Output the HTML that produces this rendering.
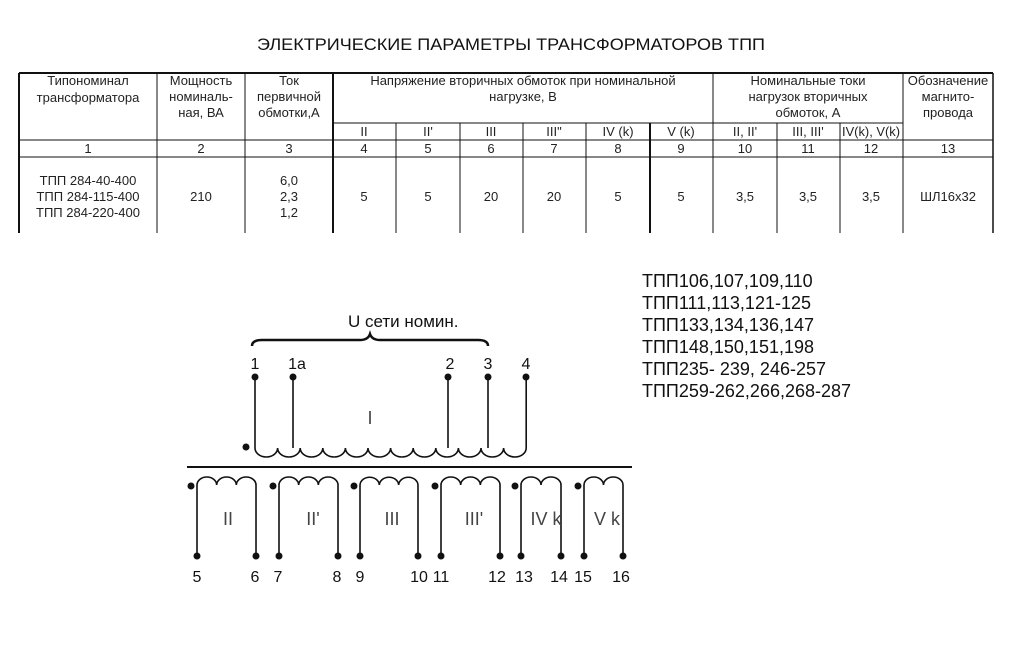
<!DOCTYPE html>
<html><head><meta charset="utf-8"><style>
html,body{margin:0;padding:0;background:#fff;}
svg{display:block;font-family:"Liberation Sans",sans-serif;}
</style></head><body>
<svg width="1012" height="645" viewBox="0 0 1012 645" xmlns="http://www.w3.org/2000/svg">
<text x="257" y="50" font-size="17" textLength="508" lengthAdjust="spacingAndGlyphs" fill="#111">ЭЛЕКТРИЧЕСКИЕ ПАРАМЕТРЫ ТРАНСФОРМАТОРОВ ТПП</text>
<g stroke="#111" fill="none">
<line x1="19" y1="73" x2="993" y2="73" stroke-width="2"/>
<line x1="19" y1="73" x2="19" y2="233" stroke-width="2"/>
<line x1="993" y1="73" x2="993" y2="233" stroke-width="1.5"/>
<line x1="333" y1="123" x2="903" y2="123" stroke-width="1"/>
<line x1="19" y1="140" x2="993" y2="140" stroke-width="1"/>
<line x1="19" y1="157" x2="993" y2="157" stroke-width="1"/>
<line x1="157" y1="73" x2="157" y2="233" stroke-width="1"/>
<line x1="245" y1="73" x2="245" y2="233" stroke-width="1"/>
<line x1="333" y1="73" x2="333" y2="233" stroke-width="2"/>
<line x1="650" y1="123" x2="650" y2="233" stroke-width="2"/>
<line x1="713" y1="73" x2="713" y2="233" stroke-width="1"/>
<line x1="903" y1="73" x2="903" y2="233" stroke-width="1"/>
<g stroke-width="1">
<line x1="396" y1="123" x2="396" y2="233"/><line x1="460" y1="123" x2="460" y2="233"/>
<line x1="523" y1="123" x2="523" y2="233"/><line x1="586" y1="123" x2="586" y2="233"/>
<line x1="777" y1="123" x2="777" y2="233"/><line x1="840" y1="123" x2="840" y2="233"/>
</g>
</g>
<g font-size="13" fill="#222" text-anchor="middle">
<text x="88" y="85">Типономинал</text><text x="88" y="102">трансформатора</text>
<text x="201" y="85">Мощность</text><text x="201" y="101">номиналь-</text><text x="201" y="117">ная, ВА</text>
<text x="289" y="85">Ток</text><text x="289" y="101">первичной</text><text x="289" y="117">обмотки,А</text>
<text x="523" y="85">Напряжение вторичных обмоток при номинальной</text><text x="523" y="101">нагрузке, В</text>
<text x="808" y="85">Номинальные токи</text><text x="808" y="101">нагрузок вторичных</text><text x="808" y="117">обмоток, А</text>
<text x="948" y="85">Обозначение</text><text x="948" y="101">магнито-</text><text x="948" y="117">провода</text>
<text x="364" y="136">II</text><text x="428" y="136">II'</text><text x="491" y="136">III</text><text x="554" y="136">III"</text>
<text x="618" y="136">IV (k)</text><text x="681" y="136">V (k)</text><text x="745" y="136">II, II'</text>
<text x="808" y="136">III, III'</text><text x="871" y="136" textLength="58" lengthAdjust="spacingAndGlyphs">IV(k), V(k)</text>
<text x="88" y="153">1</text><text x="201" y="153">2</text><text x="289" y="153">3</text><text x="364" y="153">4</text>
<text x="428" y="153">5</text><text x="491" y="153">6</text><text x="554" y="153">7</text><text x="618" y="153">8</text>
<text x="681" y="153">9</text><text x="745" y="153">10</text><text x="808" y="153">11</text><text x="871" y="153">12</text><text x="948" y="153">13</text>
<text x="88" y="185">ТПП 284-40-400</text><text x="88" y="201">ТПП 284-115-400</text><text x="88" y="217">ТПП 284-220-400</text>
<text x="201" y="201">210</text>
<text x="289" y="185">6,0</text><text x="289" y="201">2,3</text><text x="289" y="217">1,2</text>
<text x="364" y="201">5</text><text x="428" y="201">5</text><text x="491" y="201">20</text><text x="554" y="201">20</text>
<text x="618" y="201">5</text><text x="681" y="201">5</text><text x="745" y="201">3,5</text><text x="808" y="201">3,5</text><text x="871" y="201">3,5</text>
<text x="948" y="201">ШЛ16х32</text>
</g>
<g font-size="18" fill="#111">
<text x="642" y="287">ТПП106,107,109,110</text>
<text x="642" y="309">ТПП111,113,121-125</text>
<text x="642" y="331">ТПП133,134,136,147</text>
<text x="642" y="353">ТПП148,150,151,198</text>
<text x="642" y="375">ТПП235- 239, 246-257</text>
<text x="642" y="397">ТПП259-262,266,268-287</text>
</g>
<text x="348" y="327" font-size="17" fill="#111">U сети номин.</text>
<path d="M252 346 Q252 340 262 340 L360 340 Q368 340 370 334 Q372 340 380 340 L478 340 Q488 340 488 346" stroke="#111" stroke-width="2.5" fill="none"/>
<g stroke="#111" stroke-width="1.6" fill="none">
<path d="M255 377 V448 a11.3 9 0 0 0 22.6 0 a11.3 9 0 0 0 22.6 0 a11.3 9 0 0 0 22.6 0 a11.3 9 0 0 0 22.6 0 a11.3 9 0 0 0 22.6 0 a11.3 9 0 0 0 22.6 0 a11.3 9 0 0 0 22.6 0 a11.3 9 0 0 0 22.6 0 a11.3 9 0 0 0 22.6 0 a11.3 9 0 0 0 22.6 0 a11.3 9 0 0 0 22.6 0 a11.3 9 0 0 0 22.6 0 V377"/>
<line x1="293" y1="377" x2="293" y2="448"/>
<line x1="448" y1="377" x2="448" y2="448"/>
<line x1="488" y1="377" x2="488" y2="448"/>
<line x1="187" y1="467" x2="632" y2="467" stroke-width="2"/>
<path d="M197 556 V485 a9.83 8 0 0 1 19.67 0 a9.83 8 0 0 1 19.67 0 a9.83 8 0 0 1 19.67 0 V556"/>
<path d="M279 556 V485 a9.83 8 0 0 1 19.67 0 a9.83 8 0 0 1 19.67 0 a9.83 8 0 0 1 19.67 0 V556"/>
<path d="M360 556 V485 a9.67 8 0 0 1 19.33 0 a9.67 8 0 0 1 19.33 0 a9.67 8 0 0 1 19.33 0 V556"/>
<path d="M441 556 V485 a9.83 8 0 0 1 19.67 0 a9.83 8 0 0 1 19.67 0 a9.83 8 0 0 1 19.67 0 V556"/>
<path d="M521 556 V485 a10 8 0 0 1 20 0 a10 8 0 0 1 20 0 V556"/>
<path d="M584 556 V485 a9.75 8 0 0 1 19.5 0 a9.75 8 0 0 1 19.5 0 V556"/>
</g>
<g fill="#111">
<circle cx="255" cy="377" r="3.5"/><circle cx="293" cy="377" r="3.5"/><circle cx="448" cy="377" r="3.5"/><circle cx="488" cy="377" r="3.5"/><circle cx="526" cy="377" r="3.5"/>
<circle cx="246" cy="447" r="3.5"/>
<circle cx="191" cy="486" r="3.5"/><circle cx="273" cy="486" r="3.5"/><circle cx="354" cy="486" r="3.5"/><circle cx="435" cy="486" r="3.5"/><circle cx="515" cy="486" r="3.5"/><circle cx="578" cy="486" r="3.5"/>
<circle cx="197" cy="556" r="3.5"/><circle cx="256" cy="556" r="3.5"/><circle cx="279" cy="556" r="3.5"/><circle cx="338" cy="556" r="3.5"/>
<circle cx="360" cy="556" r="3.5"/><circle cx="418" cy="556" r="3.5"/><circle cx="441" cy="556" r="3.5"/><circle cx="500" cy="556" r="3.5"/>
<circle cx="521" cy="556" r="3.5"/><circle cx="561" cy="556" r="3.5"/><circle cx="584" cy="556" r="3.5"/><circle cx="623" cy="556" r="3.5"/>
</g>
<g font-size="16" fill="#111" text-anchor="middle">
<text x="255" y="369">1</text><text x="297" y="369">1a</text><text x="450" y="369">2</text><text x="488" y="369">3</text><text x="526" y="369">4</text>
<text x="197" y="582">5</text><text x="255" y="582">6</text><text x="278" y="582">7</text><text x="337" y="582">8</text>
<text x="360" y="582">9</text><text x="419" y="582">10</text><text x="441" y="582">11</text><text x="497" y="582">12</text>
<text x="524" y="582">13</text><text x="559" y="582">14</text><text x="583" y="582">15</text><text x="621" y="582">16</text>
</g>
<g font-size="18" fill="#444" text-anchor="middle">
<text x="370" y="424">I</text>
<text x="228" y="525">II</text><text x="313" y="525">II'</text><text x="392" y="525">III</text><text x="474" y="525">III'</text>
<text x="546" y="525">IV k</text><text x="607" y="525">V k</text>
</g>
</svg>
</body></html>
